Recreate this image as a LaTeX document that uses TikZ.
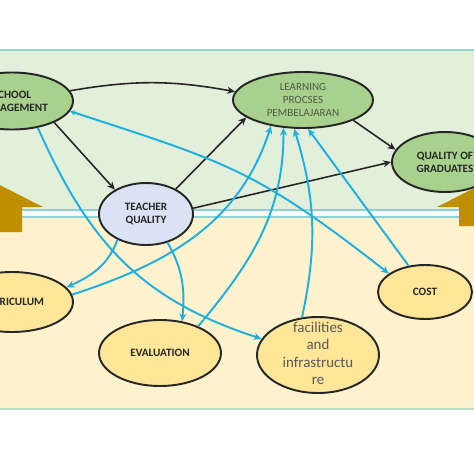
\documentclass[tikz,border=0pt]{standalone}
\usepackage{fontspec}
\setmainfont{Carlito}
\usetikzlibrary{shapes.geometric,arrows.meta}
\definecolor{panelgreen}{RGB}{226,239,218}
\definecolor{panelyellow}{RGB}{255,242,204}
\definecolor{rimteal}{RGB}{140,210,215}
\definecolor{rimgreen}{RGB}{185,222,195}
\definecolor{goldarrow}{RGB}{191,143,0}
\definecolor{nodegreen}{RGB}{169,209,142}
\definecolor{nodeyellow}{RGB}{255,230,153}
\definecolor{nodeblue}{RGB}{218,227,243}
\definecolor{linkblue}{RGB}{30,175,225}
\definecolor{textgreen}{RGB}{80,92,70}
\definecolor{textgray}{RGB}{89,89,89}

\begin{document}
\begin{tikzpicture}[x=0.02cm,y=-0.02cm,>={Stealth[length=4.5pt,width=4pt]},
        base/.style={ellipse,draw=black!85,line width=1.1pt,inner sep=0pt,align=center,text=black!85},
        upper/.style={base,fill=nodegreen},
        lower/.style={base,fill=nodeyellow},
        capsbold/.style={font=\fontsize{6.4}{7.4}\selectfont\bfseries},
        plain/.style={font=\fontsize{6.3}{7.6}\selectfont,text=textgreen},
        blackarrow/.style={->,line width=0.9pt,black!85},
        bluearrow/.style={->,line width=1.1pt,linkblue}]
        \useasboundingbox (0,0) rectangle (474,474);
        \clip (0,0) rectangle (474,474);
        \fill[white] (0,0) rectangle (474,474);

        % the two bands behind the diagram
        \filldraw[fill=panelgreen,draw=rimteal,line width=0.8pt] (-5,50) rectangle (480,210);
        \fill[panelyellow] (-5,217) rectangle (480,409);
        \draw[rimteal,line width=0.8pt] (-5,217) -- (480,217);
        \draw[rimgreen,line width=0.8pt] (-5,409) -- (480,409);

        % gold block arrows at both edges
        \fill[goldarrow] (-12,179) -- (43,207) -- (22,207) -- (22,232) -- (-46,232) -- (-46,207) -- (-67,207) -- cycle;
        \fill[goldarrow] (486,182) -- (535,207) -- (513,207) -- (513,226) -- (459,226) -- (459,207) -- (437,207) -- cycle;

        % nodes of the upper band
        \node[upper,capsbold,minimum width=2.44cm,minimum height=1.14cm] (school) at (12,101) {SCHOOL\\MANAGEMENT};
        \node[upper,plain,minimum width=2.8cm,minimum height=1.12cm] (learn) at (303,100) {LEARNING\\PROCSES\\PEMBELAJARAN};
        \node[upper,capsbold,minimum width=2.12cm,minimum height=1.2cm] (grad) at (445,162) {QUALITY OF\\GRADUATES};
        \node[base,fill=nodeblue,capsbold,minimum width=1.88cm,minimum height=1.24cm] (teacher) at (146,214) {TEACHER\\QUALITY};

        % nodes of the lower band
        \node[lower,capsbold,minimum width=2.44cm,minimum height=1.2cm] (curr) at (12,302) {CURRICULUM};
        \node[lower,capsbold,minimum width=2.44cm,minimum height=1.32cm] (eval) at (160,353) {EVALUATION};
        \node[lower,minimum width=2.44cm,minimum height=1.52cm,font=\fontsize{8.5}{10}\selectfont,text=textgray] (facil) at (318,355)
            {\smash{\raisebox{-2pt}{\begin{tabular}{@{}c@{}}facilities\\and\\infrastructu\\re\end{tabular}}}};
        \node[lower,capsbold,minimum width=1.88cm,minimum height=1.08cm] (cost) at (425,292) {COST};

        % black links
        \draw[blackarrow] (school.10) to[bend left=10] (learn.173);
        \draw[blackarrow] (school.-27) -- (teacher.142);
        \draw[blackarrow] (teacher.40) -- (learn.197);
        \draw[blackarrow] (teacher.7) -- (grad.180);
        \draw[blackarrow] (learn.-22) -- (grad.166);

        % blue links
        \draw[bluearrow,{Stealth[length=3pt,width=3pt]}->] (school.-10) to[out=-18,in=142,looseness=1.2] (cost.153);
        \draw[bluearrow] (school.-46) to[out=-66,in=162,looseness=1.05] (facil.164);
        \draw[bluearrow] (teacher.222) to[out=-110,in=25] (curr.15);
        \draw[bluearrow] (curr.7) to[out=18,in=-108] (learn.219);
        \draw[bluearrow] (teacher.-53) to[out=-60,in=85] (eval.55);
        \draw[bluearrow] (eval.35) to[out=50,in=-90] (learn.235);
        \draw[bluearrow] (facil.113) to[out=78,in=-73] (learn.253);
        \draw[bluearrow] (cost.122) -- (learn.-80);
\end{tikzpicture}
\end{document}
